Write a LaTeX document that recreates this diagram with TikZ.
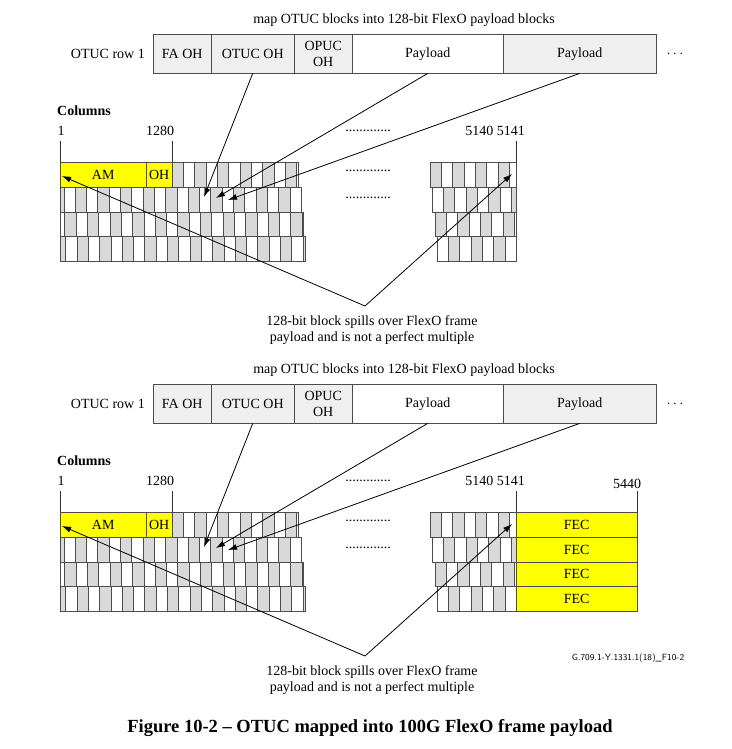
\documentclass[tikz,border=0pt]{standalone}
\usepackage{fontspec}
\setmainfont{Liberation Serif}
\usetikzlibrary{arrows.meta}
\begin{document}
\begin{tikzpicture}[x=1pt,y=-1pt,
  txt/.style={font=\fontsize{14}{16}\selectfont, inner sep=0pt},
  tb/.style={draw=black!70, minimum height=39pt, inner sep=0pt, font=\fontsize{14}{16}\selectfont, align=center, anchor=north west},
  arr/.style={-{Latex[length=9pt,width=6pt]}, line width=0.8pt},
  tick/.style={draw=black!80, line width=0.8pt},
  yb/.style={draw=black!70, fill=yel, anchor=north west, inner sep=0pt, font=\fontsize{14}{16}\selectfont}]
\useasboundingbox (0,0) rectangle (731,749);
\definecolor{cg}{HTML}{D9D9D9}
\definecolor{tg}{HTML}{EFEFEF}
\definecolor{yel}{HTML}{FFFF00}
\newcommand\cellrow[6]{% x1 x2 y1 y2 phase startgray(0/1)
  \begin{scope}
  \clip (#1,#3) rectangle (#2,#4);
  \foreach \i in {0,...,24}{
    \pgfmathsetmacro\xa{#5+\i*11.3}
    \pgfmathtruncatemacro\pty{mod(\i+#6,2)}
    \ifnum\pty=1 \filldraw[draw=black!70,fill=cg] (\xa,#3) rectangle ++(11.3,#4-#3);
    \else \filldraw[draw=black!70,fill=white] (\xa,#3) rectangle ++(11.3,#4-#3); \fi
  }
  \end{scope}
  \draw[black!70] (#1,#3) rectangle (#2,#4);
}
\newcommand\half[3]{% yoffset, suffix, fec(0/1)
\begin{scope}[shift={(0,#1)}]
  \node[txt] (title#2) at (404,20) {map OTUC blocks into 128-bit FlexO payload blocks};
  \node[txt, anchor=east] (row#2) at (145,54) {OTUC row 1};
  \node[tb, fill=tg, minimum width=58pt] (fa#2) at (153,34) {FA OH};
  \node[tb, fill=tg, minimum width=83pt] (ot#2) at (211,34) {OTUC OH};
  \node[tb, fill=tg, minimum width=58pt] (op#2) at (294,34) {OPUC\\OH};
  \node[tb, fill=white, minimum width=151pt] (pa#2) at (352,34) {Payload};
  \node[tb, fill=tg, minimum width=153pt] (pb#2) at (503,34) {Payload};
  \node[txt] (dd#2) at (675,54) {\Large$\cdots$};
  \node[txt, anchor=west, font=\fontsize{14}{16}\selectfont\bfseries] (col#2) at (57,111) {Columns};
  \node[txt] (c1#2) at (61,131) {1};
  \node[txt] (c1280#2) at (160,131) {1280};
  \node[txt] (c5140#2) at (495,131) {5140 5141};
  \node[txt] (dotsa#2) at (368,131) {.............};
  \node[txt] (dotsb#2) at (368,171) {.............};
  \node[txt] (dotsc#2) at (368,198) {.............};
  \draw[tick] (60,141) -- (60,162);
  \draw[tick] (172,141) -- (172,162);
  \draw[tick] (516,141) -- (516,162);
  \cellrow{172}{298}{162}{187}{172}{1}
  \cellrow{60}{301}{187}{212}{52.4}{1}
  \cellrow{60}{303}{212}{236}{53.3}{0}
  \cellrow{60}{305}{236}{261}{54.2}{1}
  \cellrow{430}{516}{162}{187}{430}{1}
  \cellrow{432}{516}{187}{212}{432}{0}
  \cellrow{435}{516}{212}{236}{435}{1}
  \cellrow{437}{516}{236}{261}{437}{0}
  \node[yb, minimum width=86pt, minimum height=25pt] (am#2) at (60,162) {AM};
  \node[yb, minimum width=26pt, minimum height=25pt] (oh#2) at (146,162) {OH};
  \ifnum#3=1
    \node[txt] (c5440#2) at (627,134) {5440};
    \draw[tick] (637,141) -- (637,162);
    \node[yb, minimum width=121pt, minimum height=25pt] (feca#2) at (516,162) {FEC};
    \node[yb, minimum width=121pt, minimum height=25pt] (fecb#2) at (516,187) {FEC};
    \node[yb, minimum width=121pt, minimum height=24pt] (fecc#2) at (516,212) {FEC};
    \node[yb, minimum width=121pt, minimum height=25pt] (fecd#2) at (516,236) {FEC};
  \fi
  \coordinate (t1#2) at (204,197);
  \coordinate (t2#2) at (216,198);
  \coordinate (t3#2) at (228,200);
  \draw[arr] (ot#2.south) -- (t1#2);
  \draw[arr] (pa#2.south) -- (t2#2);
  \draw[arr] (pb#2.south) -- (t3#2);
  \coordinate (v#2) at (365,306);
  \coordinate (s1#2) at (62,176);
  \coordinate (s2#2) at (512,174);
  \draw[arr] (v#2) -- (s1#2);
  \draw[arr] (v#2) -- (s2#2);
  \node[txt, align=center] (sp#2) at (372,330) {128-bit block spills over FlexO frame\\payload and is not a perfect multiple};
\end{scope}}
\half{0}{A}{0}
\half{350}{B}{1}
\node[inner sep=0pt, font=\fontsize{9}{10}\selectfont\sffamily] (ref) at (628,658) {G.709.1-Y.1331.1(18)\_F10-2};
\node[inner sep=0pt, font=\fontsize{18.5}{21}\selectfont\bfseries] (cap) at (370,728) {Figure 10-2 -- OTUC mapped into 100G FlexO frame payload};
\end{tikzpicture}
\end{document}
